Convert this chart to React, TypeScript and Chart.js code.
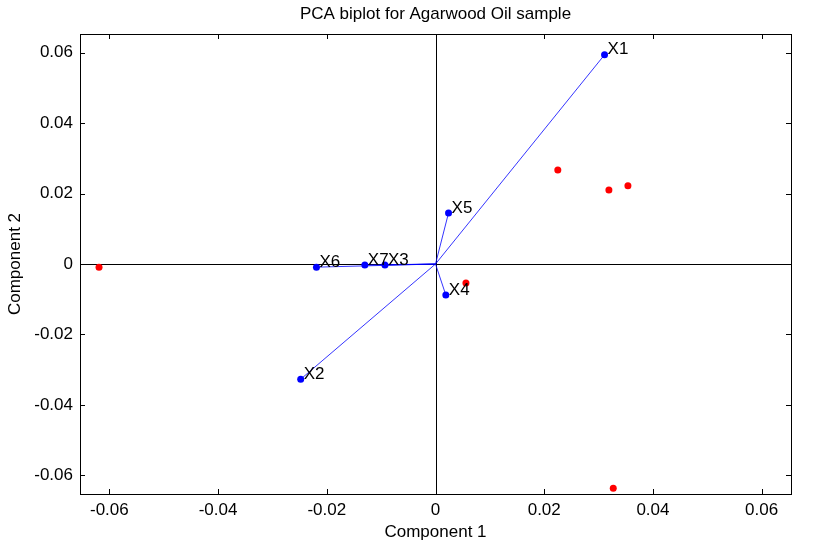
import React, { useEffect, useRef } from "react";
import { Chart, registerables } from "chart.js";

Chart.register(...registerables);

const varNames = ["X1", "X2", "X3", "X4", "X5", "X6", "X7"];
const varX = [0.0311, -0.0248, -0.0093, 0.0019, 0.0024, -0.0219, -0.013];
const varY = [0.0594, -0.0327, -0.0003, -0.0088, 0.0145, -0.0009, -0.0003];

const obsX = [-0.0619, 0.0056, 0.0225, 0.0319, 0.0354, 0.0327];
const obsY = [-0.0009, -0.0054, 0.0267, 0.021, 0.0222, -0.0637];

const tickVals = [-0.06, -0.04, -0.02, 0, 0.02, 0.04, 0.06];
const xLimit = 0.0654;
const yLimit = 0.0653;

const titleText = "PCA biplot for Agarwood Oil sample";
const xTitle = "Component 1";
const yTitle = "Component 2";

const FONT = '"Liberation Sans", Arial, sans-serif';
const FS = 17;

const overlay = {
  id: "overlay",
  beforeDatasetsDraw(chart: any) {
    const { ctx, chartArea, scales } = chart;
    const xs = scales.x, ys = scales.y;
    ctx.save();
    ctx.strokeStyle = "#000";
    ctx.lineWidth = 1;
    const x0 = Math.round(xs.getPixelForValue(0)) + 0.5;
    const y0 = Math.round(ys.getPixelForValue(0)) + 0.5;
    ctx.beginPath();
    ctx.moveTo(x0, chartArea.top);
    ctx.lineTo(x0, chartArea.bottom);
    ctx.moveTo(chartArea.left, y0);
    ctx.lineTo(chartArea.right, y0);
    ctx.stroke();
    ctx.restore();
  },
  afterDraw(chart: any) {
    const { ctx, chartArea, scales } = chart;
    const xs = scales.x, ys = scales.y;
    const { left, right, top, bottom } = chartArea;
    ctx.save();
    ctx.strokeStyle = "#000";
    ctx.lineWidth = 1;
    ctx.strokeRect(Math.round(left) + 0.5, Math.round(top) + 0.5, Math.round(right - left), Math.round(bottom - top));
    const tl = 5;
    ctx.beginPath();
    tickVals.forEach((v) => {
      const px = Math.round(xs.getPixelForValue(v)) + 0.5;
      ctx.moveTo(px, bottom);
      ctx.lineTo(px, bottom - tl);
      ctx.moveTo(px, top);
      ctx.lineTo(px, top + tl);
      const py = Math.round(ys.getPixelForValue(v)) + 0.5;
      ctx.moveTo(left, py);
      ctx.lineTo(left + tl, py);
      ctx.moveTo(right, py);
      ctx.lineTo(right - tl, py);
    });
    ctx.stroke();
    ctx.fillStyle = "#000";
    ctx.font = `${FS}px ${FONT}`;
    ctx.textAlign = "left";
    ctx.textBaseline = "middle";
    varNames.forEach((n, i) => {
      const px = xs.getPixelForValue(varX[i]);
      const py = ys.getPixelForValue(varY[i]);
      ctx.fillText(n, px + 3, py - 5);
    });
    ctx.textAlign = "center";
    ctx.fillText(titleText, (left + right) / 2, 14);
    ctx.fillText(xTitle, (left + right) / 2, 532);
    ctx.translate(15, (top + bottom) / 2);
    ctx.rotate(-Math.PI / 2);
    ctx.fillText(yTitle, 0, 0);
    ctx.restore();
  },
};

export default function App() {
  const ref = useRef<HTMLCanvasElement>(null);
  useEffect(() => {
    if (!ref.current) return;
    const vectorSets = varNames.map((n, i) => ({
      label: n,
      data: [
        { x: 0, y: 0 },
        { x: varX[i], y: varY[i] },
      ],
      showLine: true,
      borderColor: "#0000ff",
      borderWidth: 0.8,
      pointRadius: 0,
      fill: false,
    }));
    const fmt = (v: any) => (Math.abs(v) < 1e-9 ? "0" : Number(v).toFixed(2));
    const chart = new Chart(ref.current, {
      type: "scatter",
      data: {
        datasets: [
          ...vectorSets,
          {
            label: "vars",
            data: varX.map((x, i) => ({ x, y: varY[i] })),
            backgroundColor: "#0000ff",
            borderColor: "#0000ff",
            pointRadius: 3.5,
            borderWidth: 0,
          },
          {
            label: "obs",
            data: obsX.map((x, i) => ({ x, y: obsY[i] })),
            backgroundColor: "#ff0000",
            borderColor: "#ff0000",
            pointRadius: 3.5,
            borderWidth: 0,
          },
        ] as any,
      },
      options: {
        animation: false,
        responsive: false,
        layout: { padding: { top: 34, right: 22, left: 0, bottom: 0 } },
        plugins: { legend: { display: false }, tooltip: { enabled: false }, title: { display: false } },
        scales: {
          x: {
            type: "linear",
            min: -xLimit,
            max: xLimit,
            grid: { display: false, drawTicks: false },
            border: { display: false },
            afterBuildTicks: (s: any) => {
              s.ticks = tickVals.map((v) => ({ value: v }));
            },
            afterFit: (s: any) => {
              s.height = 62;
            },
            ticks: {
              color: "#000",
              font: { family: FONT, size: FS },
              padding: 6,
              maxRotation: 0,
              callback: fmt,
            },
          },
          y: {
            type: "linear",
            min: -yLimit,
            max: yLimit,
            grid: { display: false, drawTicks: false },
            border: { display: false },
            afterBuildTicks: (s: any) => {
              s.ticks = tickVals.map((v) => ({ value: v }));
            },
            afterFit: (s: any) => {
              s.width = 80;
            },
            ticks: {
              color: "#000",
              font: { family: FONT, size: FS },
              padding: 7,
              callback: fmt,
            },
          },
        },
      },
      plugins: [overlay],
    });
    return () => chart.destroy();
  }, []);
  return (
    <div style={{ position: "fixed", left: 0, top: 0, width: 813, height: 556, background: "#fff" }}>
      <canvas ref={ref} width={813} height={556} style={{ width: 813, height: 556 }} />
    </div>
  );
}
